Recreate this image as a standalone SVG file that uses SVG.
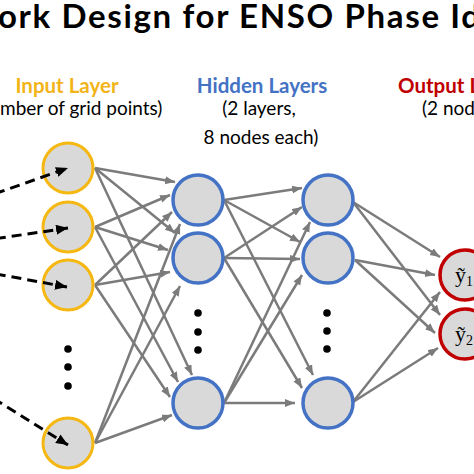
<svg xmlns="http://www.w3.org/2000/svg" width="474" height="474" viewBox="0 0 474 474">
<style>
.t{font-family:Lato,"Open Sans","Liberation Sans",sans-serif}
.title{font-size:33px;font-weight:bold;fill:#000}
.hd{font-size:20.5px;font-weight:bold}
.sub{font-size:19px;fill:#000}
.in{fill:#D9D9D9;stroke:#F5B812;stroke-width:3}
.hid{fill:#D9D9D9;stroke:#4472C4;stroke-width:3.5}
.out{fill:#D9D9D9;stroke:#C00000;stroke-width:3.5}
.c{stroke:#7B7B7B;stroke-width:2.5;fill:none;marker-end:url(#ag)}
.d{stroke:#000;stroke-width:3;fill:none;stroke-dasharray:10 6;marker-end:url(#ab)}
.dot{fill:#000}
.y{font-family:"Liberation Serif","DejaVu Serif",serif;fill:#000}
</style>
<defs>
<marker id="ag" markerUnits="userSpaceOnUse" markerWidth="11" markerHeight="9" refX="10" refY="4" orient="auto">
<path d="M0,0 L10,4 L0,8 z" fill="#7B7B7B"/>
</marker>
<marker id="ab" markerUnits="userSpaceOnUse" markerWidth="13" markerHeight="11" refX="12" refY="5" orient="auto">
<path d="M0,0 L12,5 L0,10 z" fill="#000"/>
</marker>
</defs>
<rect width="474" height="474" fill="#fff"/>
<text class="t title" x="-2" y="28" textLength="482" lengthAdjust="spacing">ork Design for ENSO Phase Id</text>
<text class="t hd" x="67" y="93" text-anchor="middle" fill="#F2B418">Input Layer</text>
<text class="t sub" x="0" y="115">mber of grid points)</text>
<text class="t hd" x="262" y="93" text-anchor="middle" fill="#4472C4">Hidden Layers</text>
<text class="t sub" x="259" y="115" text-anchor="middle">(2 layers,</text>
<text class="t sub" x="261" y="144" text-anchor="middle">8 nodes each)</text>
<text class="t hd" x="398" y="93" fill="#C00000">Output L</text>
<text class="t sub" x="422" y="115">(2 nod</text>
<g id="connectors">
<line class="c" x1="95" y1="168" x2="175" y2="182"/>
<line class="c" x1="95" y1="168" x2="175" y2="233"/>
<line class="c" x1="95" y1="168" x2="192" y2="375"/>
<line class="c" x1="95" y1="227" x2="170" y2="195"/>
<line class="c" x1="95" y1="227" x2="168" y2="250"/>
<line class="c" x1="95" y1="227" x2="178" y2="382"/>
<line class="c" x1="95" y1="285" x2="172" y2="212"/>
<line class="c" x1="95" y1="285" x2="170" y2="272"/>
<line class="c" x1="95" y1="285" x2="170" y2="397"/>
<line class="c" x1="95" y1="443" x2="180" y2="224"/>
<line class="c" x1="95" y1="443" x2="180" y2="286"/>
<line class="c" x1="95" y1="443" x2="172" y2="415"/>
<line class="c" x1="224" y1="200" x2="302" y2="188"/>
<line class="c" x1="224" y1="200" x2="300" y2="242"/>
<line class="c" x1="224" y1="200" x2="313" y2="375"/>
<line class="c" x1="224" y1="258" x2="302" y2="207"/>
<line class="c" x1="224" y1="258" x2="300" y2="259"/>
<line class="c" x1="224" y1="258" x2="302" y2="388"/>
<line class="c" x1="224" y1="403" x2="310" y2="222"/>
<line class="c" x1="224" y1="403" x2="302" y2="275"/>
<line class="c" x1="224" y1="403" x2="295" y2="403"/>
<line class="c" x1="353" y1="202" x2="440" y2="257"/>
<line class="c" x1="353" y1="202" x2="440" y2="315"/>
<line class="c" x1="355" y1="260" x2="435" y2="275"/>
<line class="c" x1="355" y1="260" x2="435" y2="333"/>
<line class="c" x1="353" y1="402" x2="440" y2="292"/>
<line class="c" x1="353" y1="402" x2="438" y2="348"/>
</g>
<g id="input-1"><circle class="in" cx="68" cy="168" r="25"/></g>
<g id="input-2"><circle class="in" cx="68" cy="227" r="25"/></g>
<g id="input-3"><circle class="in" cx="68" cy="285" r="25"/></g>
<g id="input-dots"><circle class="dot" cx="68" cy="349" r="3.8"/><circle class="dot" cx="68" cy="367" r="3.8"/><circle class="dot" cx="68" cy="386" r="3.8"/></g>
<g id="input-4"><circle class="in" cx="68" cy="443" r="25"/></g>
<g id="input-connectors">
<line class="d" x1="-20" y1="199" x2="68" y2="168"/>
<line class="d" x1="-20" y1="241" x2="68" y2="228"/>
<line class="d" x1="-20" y1="271" x2="67" y2="287"/>
<line class="d" x1="-20" y1="390" x2="68" y2="445"/>
</g>
<g id="hidden1-1"><circle class="hid" cx="198" cy="200" r="25"/></g>
<g id="hidden1-2"><circle class="hid" cx="198" cy="258" r="25"/></g>
<g id="hidden1-dots"><circle class="dot" cx="198" cy="313" r="3.8"/><circle class="dot" cx="198" cy="332" r="3.8"/><circle class="dot" cx="198" cy="350" r="3.8"/></g>
<g id="hidden1-3"><circle class="hid" cx="198" cy="403" r="25"/></g>
<g id="hidden2-1"><circle class="hid" cx="328" cy="200" r="25"/></g>
<g id="hidden2-2"><circle class="hid" cx="328" cy="258" r="25"/></g>
<g id="hidden2-dots"><circle class="dot" cx="327" cy="313" r="3.8"/><circle class="dot" cx="327" cy="331" r="3.8"/><circle class="dot" cx="327" cy="349" r="3.8"/></g>
<g id="hidden2-3"><circle class="hid" cx="328" cy="403" r="25"/></g>
<g id="output-1"><circle class="out" cx="465" cy="275" r="25"/><text class="y" x="455" y="282" font-size="22">ỹ<tspan font-size="14" dy="4">1</tspan></text></g>
<g id="output-2"><circle class="out" cx="465" cy="334" r="25"/><text class="y" x="455" y="341" font-size="22">ỹ<tspan font-size="14" dy="4">2</tspan></text></g>
</svg>
